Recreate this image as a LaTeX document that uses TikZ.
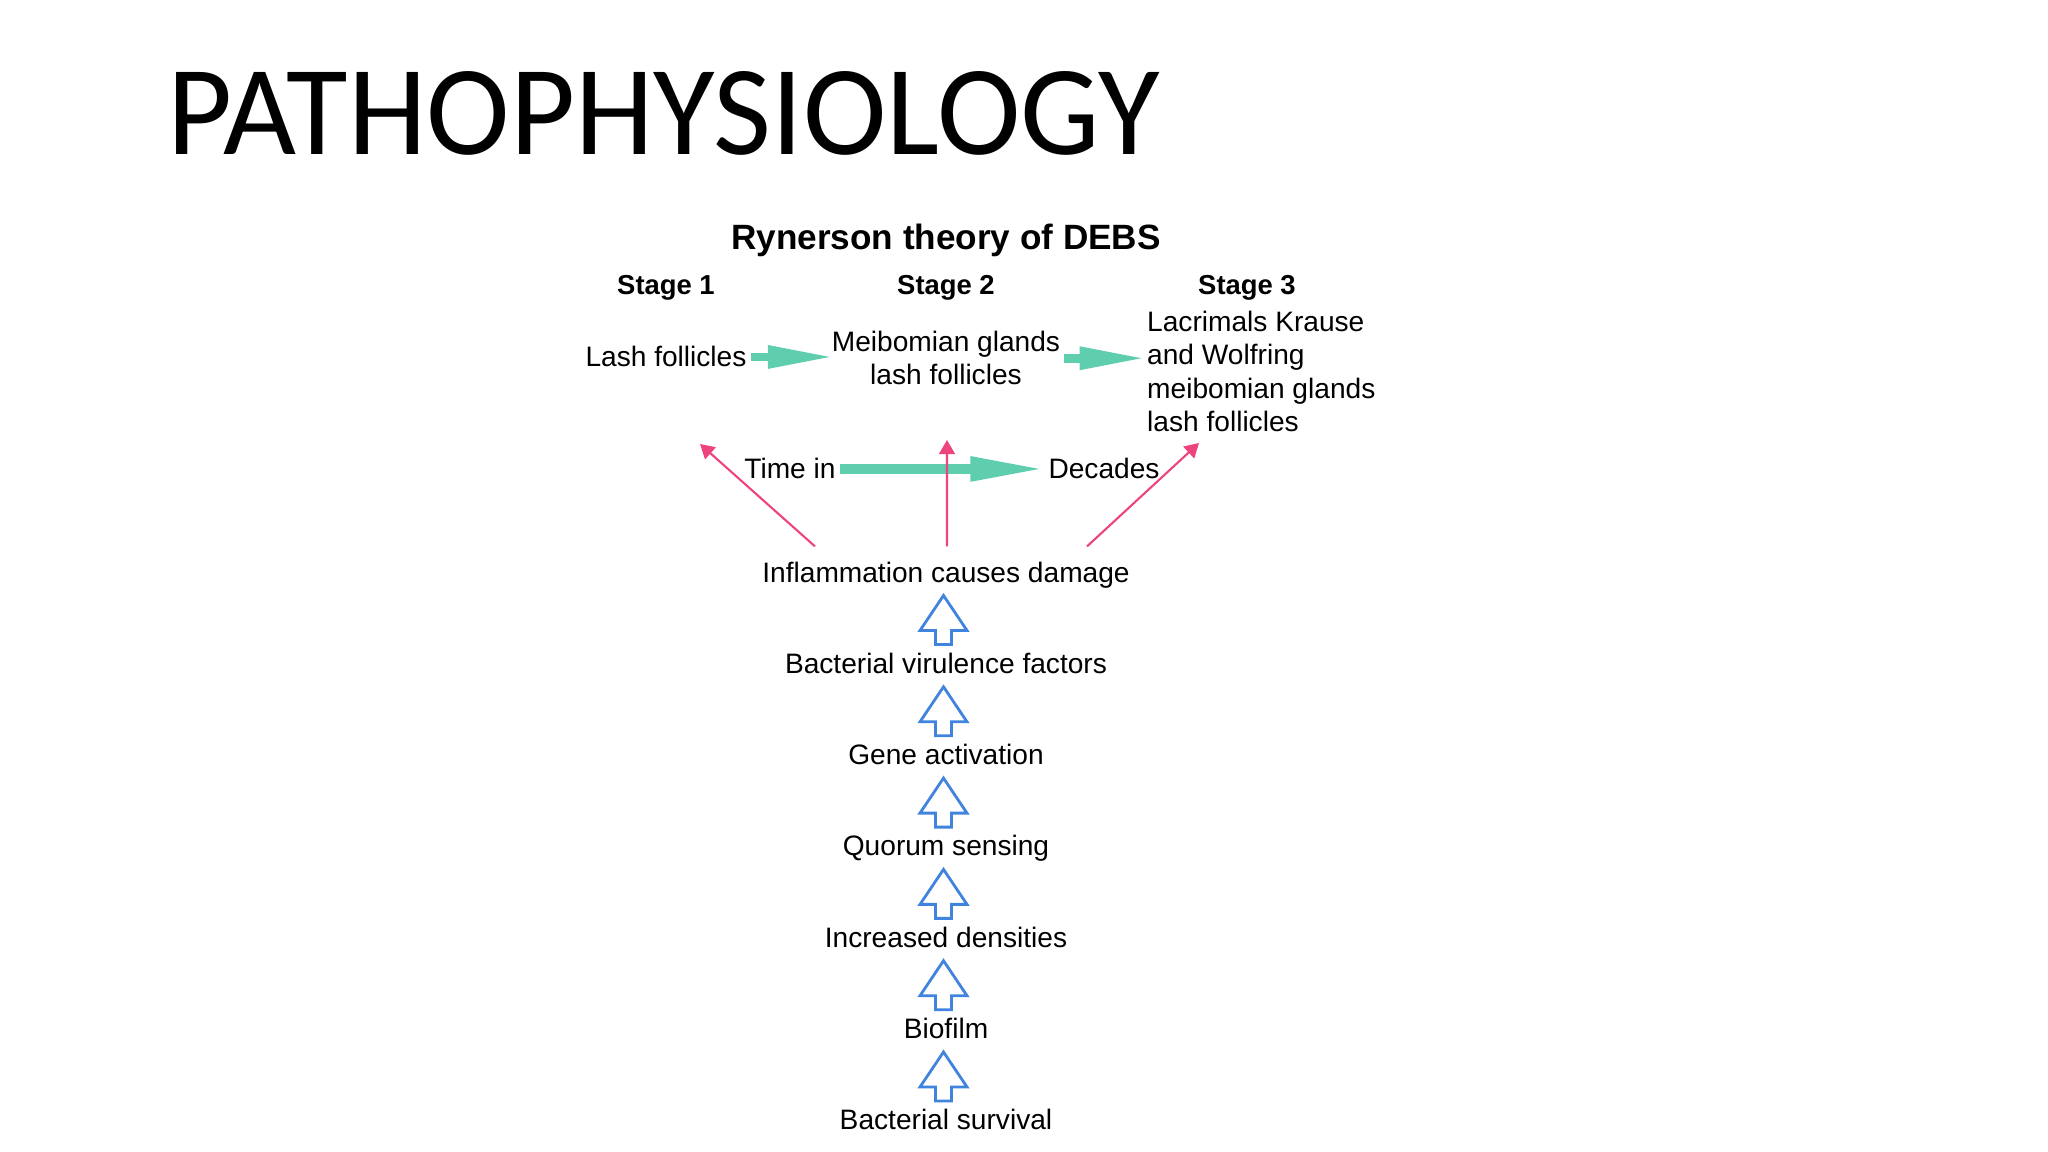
\documentclass[tikz,border=0pt]{standalone}
\usepackage{fontspec}
\setmainfont{Liberation Sans}
\newfontfamily\slidefont{Carlito}
\usepackage{tikz}
\usetikzlibrary{arrows.meta, calc}
\definecolor{stagegreen}{RGB}{95,206,175}
\definecolor{causepink}{RGB}{238,68,124}
\definecolor{chainblue}{RGB}{64,132,222}

\begin{document}
\begin{tikzpicture}[
  font=\fontsize{8}{9.5}\selectfont,
  txt/.style={inner sep=1pt},
  stagehead/.style={inner sep=1pt, font=\fontsize{7.8}{9}\selectfont\bfseries},
  progress/.style={draw=stagegreen, line width=2.5pt, -{Triangle[length=19pt, width=6pt]}},
  decade/.style={draw=stagegreen, line width=2.6pt, -{Triangle[length=21pt, width=6.5pt]}},
  damage/.style={draw=causepink, line width=0.6pt, -{Triangle[length=4pt, width=4.5pt]}},
  hollow/.style={draw=chainblue, fill=white, line width=0.8pt, line join=miter}
]
  \useasboundingbox (0,0) rectangle (20.48,-11.52);

  \node[inner sep=0, anchor=base west, font=\slidefont\fontsize{36.4}{40}\selectfont]
    (title) at (1.67,-1.55) {\scalebox{0.985}[1]{PATHOPHYSIOLOGY}};

  \node[txt, anchor=base, font=\fontsize{10}{12}\selectfont\bfseries]
    (theory) at (9.46,-2.50) {Rynerson theory of DEBS};
  \node[stagehead, anchor=base] (st1) at (6.66,-2.95) {Stage 1};
  \node[stagehead, anchor=base] (st2) at (9.46,-2.95) {Stage 2};
  \node[stagehead, anchor=base] (st3) at (12.47,-2.95) {Stage 3};

  \node[txt, anchor=base] (lash) at (6.66,-3.67) {Lash follicles};
  \node[txt, anchor=north, align=center] (meib) at (9.46,-3.27)
    {Meibomian glands\\lash follicles};
  \node[txt, anchor=north west, align=left] (lacr) at (11.43,-3.07)
    {Lacrimals Krause\\and Wolfring\\meibomian glands\\lash follicles};
  \draw[progress] (lash.east) -- ([xshift=2pt]lash.east -| meib.west);
  \draw[progress] (meib.east) -- ([xshift=1pt]meib.east -| lacr.west);

  \node[txt, anchor=base] (timein) at (7.90,-4.79) {Time in};
  \node[txt, anchor=base] (decades) at (11.04,-4.79) {Decades};
  \draw[decade] (timein.east) -- (decades.west);

  % chain from bottom to top
  \node[txt, anchor=base] (infl) at (9.46,-5.820) {Inflammation causes damage};
  \node[txt, anchor=base] (vir)  at (9.46,-6.733) {Bacterial virulence factors};
  \node[txt, anchor=base] (gene) at (9.46,-7.646) {Gene activation};
  \node[txt, anchor=base] (quor) at (9.46,-8.559) {Quorum sensing};
  \node[txt, anchor=base] (dens) at (9.46,-9.472) {Increased densities};
  \node[txt, anchor=base] (biof) at (9.46,-10.385) {Biofilm};
  \node[txt, anchor=base] (surv) at (9.46,-11.298) {Bacterial survival};

  \foreach \lo/\hi in {surv/biof, biof/dens, dens/quor, quor/gene, gene/vir, vir/infl} {
    \coordinate (\lo-up) at ($(\hi.base)+(-0.025,-0.38)$);
    \draw[hollow, shift={(\lo-up)}] (0,0.245) -- (0.235,-0.105) -- (0.08,-0.105)
      -- (0.08,-0.245) -- (-0.08,-0.245) -- (-0.08,-0.105) -- (-0.235,-0.105) -- cycle;
  }

  \coordinate (tipa) at (7.00,-4.44);
  \coordinate (tipb) at (9.47,-4.40);
  \coordinate (tipc) at (11.99,-4.43);
  \foreach \dx/\tip in {-1.31/tipa, 0.01/tipb, 1.41/tipc}
    \draw[damage] ([shift={(\dx,0.11)}]infl.north) -- (\tip);
\end{tikzpicture}
\end{document}
